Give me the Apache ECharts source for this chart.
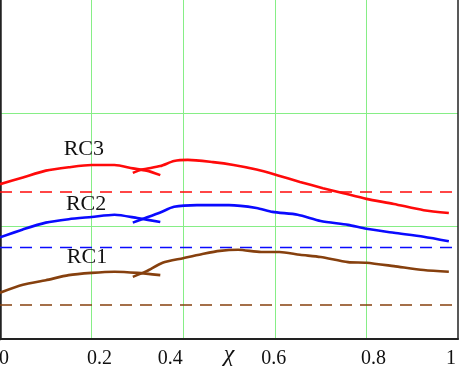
<!DOCTYPE html>
<html>
<head>
<meta charset="utf-8">
<script src="https://cdn.jsdelivr.net/npm/echarts@6/dist/echarts.min.js"></script>
<style>html,body{margin:0;padding:0;background:#fff;}#c{width:474px;height:369px;}</style>
</head>
<body>
<div id="c"></div>
<script>
// x ticks
var xTicks = [0, 0.2, 0.4, 0.6, 0.8, 1];
// RC3 (red)
var rc3Left = [[0,1.37],[0.05,1.43],[0.1,1.49],[0.15,1.52],[0.2,1.54],[0.25,1.54],[0.29,1.51],[0.32,1.49],[0.35,1.45]];
var rc3Right = [[0.29,1.47],[0.31,1.50],[0.35,1.53],[0.38,1.575],[0.41,1.585],[0.465,1.565],[0.51,1.54],[0.56,1.50],[0.605,1.45],[0.655,1.39],[0.705,1.335],[0.75,1.29],[0.80,1.24],[0.86,1.195],[0.925,1.14],[0.98,1.115]];
var rc3Ref = 1.30;
// RC2 (blue)
var rc2Left = [[0,0.90],[0.05,0.97],[0.1,1.03],[0.15,1.06],[0.2,1.08],[0.25,1.10],[0.30,1.07],[0.35,1.035]];
var rc2Right = [[0.29,1.03],[0.31,1.06],[0.35,1.12],[0.38,1.17],[0.43,1.185],[0.50,1.185],[0.56,1.16],[0.595,1.125],[0.65,1.10],[0.70,1.045],[0.76,1.01],[0.80,0.975],[0.86,0.94],[0.925,0.905],[0.98,0.865]];
var rc2Ref = 0.81;
// RC1 (brown)
var rc1Left = [[0,0.41],[0.05,0.48],[0.1,0.52],[0.15,0.565],[0.2,0.585],[0.25,0.595],[0.30,0.585],[0.35,0.565]];
var rc1Right = [[0.29,0.55],[0.32,0.60],[0.355,0.675],[0.40,0.715],[0.44,0.75],[0.48,0.78],[0.52,0.79],[0.57,0.77],[0.61,0.77],[0.655,0.745],[0.70,0.725],[0.76,0.68],[0.80,0.675],[0.86,0.645],[0.925,0.61],[0.98,0.595]];
var rc1Ref = 0.30;
// labels
var curveNames = ['RC3', 'RC2', 'RC1'];
var labelPos = [[0.183, 1.68], [0.188, 1.19], [0.19, 0.72]];
var refEnd = 0.99;

var RED = '#ff0a0a', BLUE = '#0a0aff', BROWN = '#86400e';
var GRID = '#86ee86';
var labelShift = {'0': [0,0,0,8], '0.2': [0,0,0,16], '0.4': [0,26,0,0], '0.6': [0,2,0,0], '0.8': [0,0,0,14], '1': [0,14,0,0]};
var rich = {};
var keys = Object.keys(labelShift);
keys.forEach(function (k, i) {
  rich['t' + i] = {padding: labelShift[k], fontFamily: 'Liberation Serif', fontSize: 20, color: '#111'};
});

function solid(data, color, labelIdx) {
  var s = {type: 'line', data: data, showSymbol: false, symbol: 'none', smooth: 0.25,
    lineStyle: {color: color, width: 2.6}, silent: true, z: 3};
  if (labelIdx !== undefined) {
    s.markPoint = {symbol: 'circle', symbolSize: 0, silent: true,
      data: [{coord: labelPos[labelIdx], value: curveNames[labelIdx]}],
      label: {show: true, position: 'inside', formatter: curveNames[labelIdx],
        fontFamily: 'Liberation Serif', fontSize: 22, color: '#111'}};
  }
  return s;
}
function dashed(v, color) {
  return {type: 'line', data: [[0, v], [refEnd, v]], showSymbol: false, symbol: 'none',
    lineStyle: {color: color, width: 1.5, type: [12, 8]}, silent: true, z: 2};
}

var chart = echarts.init(document.getElementById('c'), null, {renderer: 'canvas'});
chart.setOption({
  animation: false,
  backgroundColor: '#fff',
  grid: {left: 0, right: 16, top: 0, bottom: 30, containLabel: false, outerBoundsMode: 'none'},
  xAxis: {
    type: 'value', min: 0, max: 1, interval: 0.2,
    name: 'χ', nameLocation: 'middle', nameGap: 4, nameMoveOverlap: false,
    nameTextStyle: {fontFamily: 'Liberation Serif', fontStyle: 'italic', fontSize: 24, color: '#111'},
    axisLine: {show: true, lineStyle: {color: '#222', width: 2}},
    axisTick: {show: false},
    axisLabel: {margin: 10, showMinLabel: true, showMaxLabel: true,
      formatter: function (v) {
        var s = String(Math.round(v * 10) / 10);
        var i = keys.indexOf(s);
        return '{t' + i + '|' + s + '}';
      }, rich: rich},
    splitLine: {show: true, showMinLine: false, showMaxLine: false, lineStyle: {color: GRID, width: 1}}
  },
  yAxis: [{
    type: 'value', min: 0, max: 3, interval: 1, position: 'left',
    axisLine: {show: true, lineStyle: {color: '#222', width: 2.5}},
    axisTick: {show: false}, axisLabel: {show: false},
    splitLine: {show: true, showMinLine: false, showMaxLine: false, lineStyle: {color: GRID, width: 1}}
  }, {
    type: 'value', min: 0, max: 3, interval: 1, position: 'right',
    axisLine: {show: true, lineStyle: {color: '#222', width: 1.5}},
    axisTick: {show: false}, axisLabel: {show: false}, splitLine: {show: false}
  }],
  series: [
    dashed(rc3Ref, RED), dashed(rc2Ref, BLUE), dashed(rc1Ref, BROWN),
    solid(rc3Left, RED, 0), solid(rc3Right, RED),
    solid(rc2Left, BLUE, 1), solid(rc2Right, BLUE),
    solid(rc1Left, BROWN, 2), solid(rc1Right, BROWN)
  ]
});
</script>
</body>
</html>
